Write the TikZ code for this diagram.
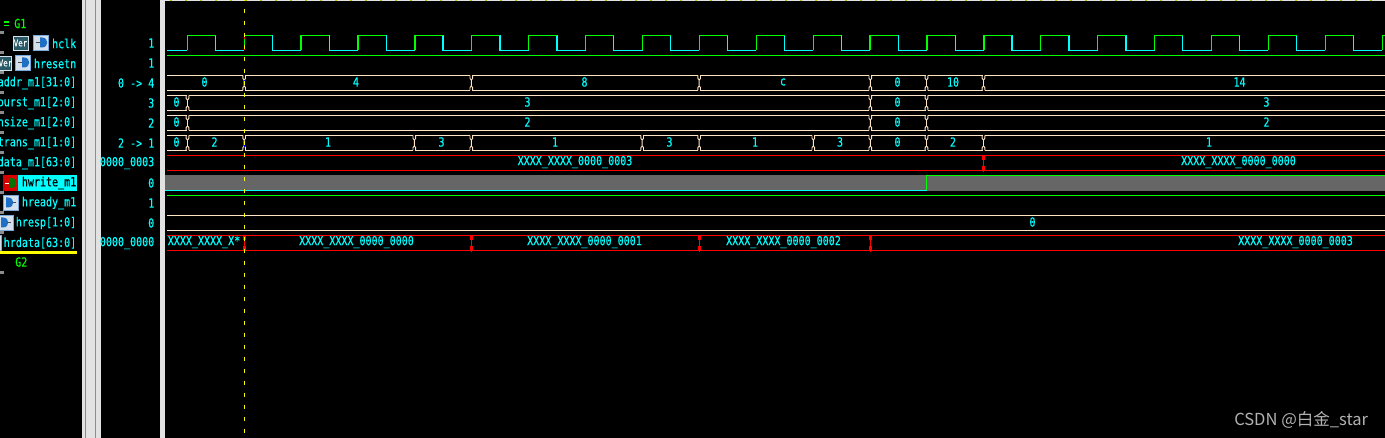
\documentclass[tikz,border=0pt]{standalone}
\usepackage{fontspec}
\setmainfont{DejaVu Sans}
\newfontfamily\wavefont[FakeStretch=0.8,FakeBold=0.3]{DejaVu Sans Mono}
\newfontfamily\markfont{Noto Sans CJK SC}
\definecolor{buscream}{HTML}{FFE4C4}
\definecolor{sashgrey}{HTML}{E2E2E2}
\definecolor{sashline}{HTML}{8C8C8C}
\definecolor{xgrey}{HTML}{666666}
\definecolor{iconface}{HTML}{D4E0EC}
\definecolor{iconblue}{HTML}{1F6FC4}
\definecolor{verface}{HTML}{2A5A66}
\definecolor{wavecyan}{HTML}{00FFFF}
\definecolor{wavegreen}{HTML}{00FF00}
\definecolor{wavered}{HTML}{FF0000}
\definecolor{waveyellow}{HTML}{FFFF00}
\definecolor{waveblue}{HTML}{0000FF}
\tikzset{
  x=0.75pt,y=-0.75pt,
  wtext/.style={text=wavecyan,inner sep=0pt,font=\wavefont\fontsize{9.4pt}{10pt}\selectfont},
  rtext/.style={wtext,anchor=east},
  ctext/.style={wtext,anchor=center},
  grouptext/.style={inner sep=0pt,text=wavegreen,anchor=west,font=\wavefont\fontsize{9.4pt}{10pt}\selectfont},
  busline/.style={draw=buscream,line width=1pt},
  notch/.style={draw=buscream,line width=0.7pt},
  hiline/.style={draw=wavegreen,line width=1pt},
  loline/.style={draw=wavecyan,line width=1pt},
  redline/.style={draw=wavered,line width=1pt},
  verbox/.style={fill=verface,draw=iconface,line width=0.5pt},
  iconbox/.style={fill=iconface,draw=iconblue!60!white,line width=0.5pt},
}
\newcommand{\wbus}[2]{%
  \draw[busline] (167,#1) -- (1385,#1);
  \draw[busline] (167,#1+15) -- (1385,#1+15);
  \foreach \tx in {#2}{%
    \fill[black] (\tx-1,#1-1) rectangle (\tx+1,#1+1);
    \fill[black] (\tx-1,#1+14) rectangle (\tx+1,#1+16);
    \draw[notch] (\tx-1.3,#1) -- (\tx-1.3,#1+3) -- (\tx,#1+4.5) -- (\tx,#1+10.5) -- (\tx-1.3,#1+12) -- (\tx-1.3,#1+15);
    \draw[notch] (\tx+1.3,#1) -- (\tx+1.3,#1+3) -- (\tx,#1+4.5);
    \draw[notch] (\tx,#1+10.5) -- (\tx+1.3,#1+12) -- (\tx+1.3,#1+15);
  }}
\newcommand{\wred}[2]{%
  \draw[redline] (167,#1) -- (1385,#1);
  \draw[redline] (167,#1+15) -- (1385,#1+15);
  \foreach \tx in {#2}{%
    \draw[wavered,line width=0.7pt] (\tx,#1) -- (\tx,#1+17);
    \fill[wavered] (\tx-1.5,#1+1) rectangle (\tx+1.5,#1+4.5);
    \fill[wavered] (\tx-1.5,#1+11) rectangle (\tx+1.5,#1+15.5);
  }}
\newcommand{\halfgate}[3]{%
  \fill[#3] (#1,#2) -- (#1+2,#2) .. controls (#1+9,#2) and (#1+9,#2+10) .. (#1+2,#2+10) -- (#1,#2+10) -- cycle;
}
\newcommand{\iconin}[2]{%
  \draw[iconbox] (#1,#2) rectangle (#1+15,#2+15);
  \draw[black!70,line width=0.7pt] (#1+2.5,#2+7.5) -- (#1+7,#2+7.5);
  \halfgate{#1+7}{#2+2.5}{iconblue}
}
\newcommand{\iconout}[2]{%
  \draw[iconbox] (#1,#2) rectangle (#1+15,#2+15);
  \halfgate{#1+3}{#2+2.5}{iconblue}
  \draw[black!70,line width=0.7pt] (#1+10,#2+7.5) -- (#1+13,#2+7.5);
}
\newcommand{\verlabel}[3]{%
  \draw[verbox] (#1,#2) rectangle (#1+15,#2+14);
  \node[inner sep=0pt,text=white,font=\wavefont\fontsize{7pt}{7pt}\selectfont] at (#3,#2+7) {Ver};
}
\begin{document}
\begin{tikzpicture}
\useasboundingbox (0,0) rectangle (1385,438);
\fill[black] (0,0) rectangle (1385,438);
% sash and column separators
\fill[sashgrey] (82,0) rectangle (101,438);
\draw[sashline,line width=0.9pt] (85.5,0) -- (85.5,438);
\draw[sashline,line width=0.9pt] (95.5,0) -- (95.5,438);
\fill[sashgrey] (160,0) rectangle (165,438);
\fill[sashgrey] (165,0) rectangle (1385,1);
\draw[waveyellow!75!black,line width=0.6pt,dash pattern=on 1.5pt off 9.75pt] (170,0.6) -- (1385,0.6);
% left panel
\foreach \ty in {31,51,...,271}{\fill[sashline] (0,\ty) rectangle (4,\ty+3);}
\fill[wavecyan] (18,175) rectangle (77,191);
\fill[waveyellow] (0,251) rectangle (77,254);
\begin{scope}
\clip (0,0) rectangle (82,438);
\fill[wavegreen] (4,21.5) rectangle (9,23);
\fill[wavegreen] (4,25) rectangle (9,26.5);
\node[grouptext] (gone) at (14,23.5) {G1};
\verlabel{13}{36}{20.5}
\iconin{33}{35}
\node[rtext] (nclk) at (76.5,43.5) {hclk};
\verlabel{-4}{56}{5.5}
\iconin{15}{55}
\node[rtext] (nrst) at (76.5,63.5) {hresetn};
\node[rtext] (naddr) at (76.5,83) {addr\_m1[31:0]};
\node[rtext] (nburst) at (76.5,103) {ourst\_m1[2:0]};
\node[rtext] (nsize) at (76.5,123) {nsize\_m1[2:0]};
\node[rtext] (ntrans) at (76.5,143) {trans\_m1[1:0]};
\node[rtext] (ndata) at (76.5,163) {data\_m1[63:0]};
\fill[wavered!85!black] (3,175) rectangle (18,191);
\draw[white,line width=0.7pt] (5,183) -- (8.5,183);
\halfgate{9}{178}{wavegreen!45!black}
\node[rtext,text=black] (nwrite) at (76.5,183) {hwrite\_m1};
\iconout{3}{195}
\node[rtext] (nready) at (76.5,203) {hready\_m1};
\iconout{-2}{215}
\node[rtext] (nresp) at (76.5,223) {hresp[1:0]};
\draw[iconbox] (-4,235) rectangle (1,250);
\node[rtext] (nrdata) at (76.5,243) {hrdata[63:0]};
\node[grouptext] (gtwo) at (15,262) {G2};
\end{scope}
% value column
\node[rtext] (vclk) at (154.5,43) {1};
\node[rtext] (vrst) at (154.5,63) {1};
\node[rtext] (vaddr) at (154.5,83) {0 -> 4};
\node[rtext] (vburst) at (154.5,103) {3};
\node[rtext] (vsize) at (154.5,123) {2};
\node[rtext] (vtrans) at (154.5,143) {2 -> 1};
\node[rtext] (vdata) at (154.5,163) {0000\_0003};
\node[rtext] (vwrite) at (154.5,183) {0};
\node[rtext] (vready) at (154.5,203) {1};
\node[rtext] (vresp) at (154.5,223) {0};
\node[rtext] (vrdata) at (154.5,243) {0000\_0000};
% hclk
\draw[loline] (167,50.5) -- (187.3,50.5);
\foreach \k in {0,...,21}{%
  \pgfmathsetmacro{\rx}{187.3+56.9*\k}
  \pgfmathsetmacro{\fx}{\rx+28.2}
  \pgfmathsetmacro{\nx}{\rx+56.9}
  \draw[loline] (\fx,35.5) -- (\fx,50.5) -- (\nx,50.5);
  \draw[hiline] (\rx,50.5) -- (\rx,35.5) -- (\fx,35.5);
}
\fill[black] (1385,30) rectangle (1450,55);
\draw[wavered,line width=1pt] (244.2,50.5) -- (244.2,45.5);
\draw[wavered,line width=1pt] (244.2,39) -- (244.2,35.5);
% hresetn
\draw[hiline] (167,55.5) -- (1385,55.5);
% buses
\wbus{75.5}{244.2,471.3,699.2,870.3,926.5,983.5}
\wbus{95.5}{187.5,870.3,926.5}
\wbus{115.5}{187.5,870.3,926.5}
\wbus{135.5}{187.5,244.2,414.3,471.3,642.2,699.2,813.3,870.3,926.5,983.5}
\draw[waveblue,line width=1pt] (244.2,80) -- (244.2,85);
\draw[waveblue,line width=1pt] (244.2,145.5) -- (244.2,147);
\node[ctext] (a0) at (204.5,82) {0};
\node[ctext] (a1) at (356,82) {4};
\node[ctext] (a2) at (584.5,82) {8};
\node[ctext] (a3) at (783,82) {c};
\node[ctext] (a4) at (897.5,82) {0};
\node[ctext] (a5) at (953,82) {10};
\node[ctext] (a6) at (1239.5,82) {14};
\node[ctext] (b0) at (176.5,102) {0};
\node[ctext] (b1) at (527.5,102) {3};
\node[ctext] (b2) at (897.5,102) {0};
\node[ctext] (b3) at (1266.5,102) {3};
\node[ctext] (s0) at (176.5,122) {0};
\node[ctext] (s1) at (527.5,122) {2};
\node[ctext] (s2) at (897.5,122) {0};
\node[ctext] (s3) at (1266.5,122) {2};
\node[ctext] (t0) at (176.5,142) {0};
\node[ctext] (t1) at (214.5,142) {2};
\node[ctext] (t2) at (328,142) {1};
\node[ctext] (t3) at (441.5,142) {3};
\node[ctext] (t4) at (555,142) {1};
\node[ctext] (t5) at (669.5,142) {3};
\node[ctext] (t6) at (755,142) {1};
\node[ctext] (t7) at (840,142) {3};
\node[ctext] (t8) at (897.5,142) {0};
\node[ctext] (t9) at (953,142) {2};
\node[ctext] (t10) at (1209,142) {1};
% hwdata
\wred{155.5}{983.5}
\node[ctext] (d0) at (575,162) {XXXX\_XXXX\_0000\_0003};
\node[ctext] (d1) at (1238.5,162) {XXXX\_XXXX\_0000\_0000};
% hwrite
\fill[xgrey] (165,175) rectangle (1385,191);
\draw[loline] (165,190.5) -- (926.5,190.5);
\draw[hiline] (926.5,190.5) -- (926.5,175.5) -- (1385,175.5);
% hready
\draw[hiline] (167,195.5) -- (1385,195.5);
% hresp
\draw[busline] (167,215.5) -- (1385,215.5);
\draw[busline] (167,230.5) -- (1385,230.5);
\node[ctext] (r0) at (1032.5,222) {0};
% hrdata
\wred{235.5}{244.2,471.3,699.2,870.3}
\node[ctext] (h0) at (204,242) {XXXX\_XXXX\_X*};
\node[ctext] (h1) at (356.5,242) {XXXX\_XXXX\_0000\_0000};
\node[ctext] (h2) at (584.5,242) {XXXX\_XXXX\_0000\_0001};
\node[ctext] (h3) at (783.5,242) {XXXX\_XXXX\_0000\_0002};
\node[ctext] (h4) at (1295.5,242) {XXXX\_XXXX\_0000\_0003};
% cursor
\draw[waveyellow,line width=1pt,dash pattern=on 3pt off 6pt] (244.3,-3.3) -- (244.3,438);
% watermark
\node[inner sep=0pt,anchor=west,text=black!30!white,font=\markfont\fontsize{12.4pt}{13pt}\selectfont] (mark) at (1234,419.5) {CSDN @白金\_star};
\end{tikzpicture}
\end{document}
